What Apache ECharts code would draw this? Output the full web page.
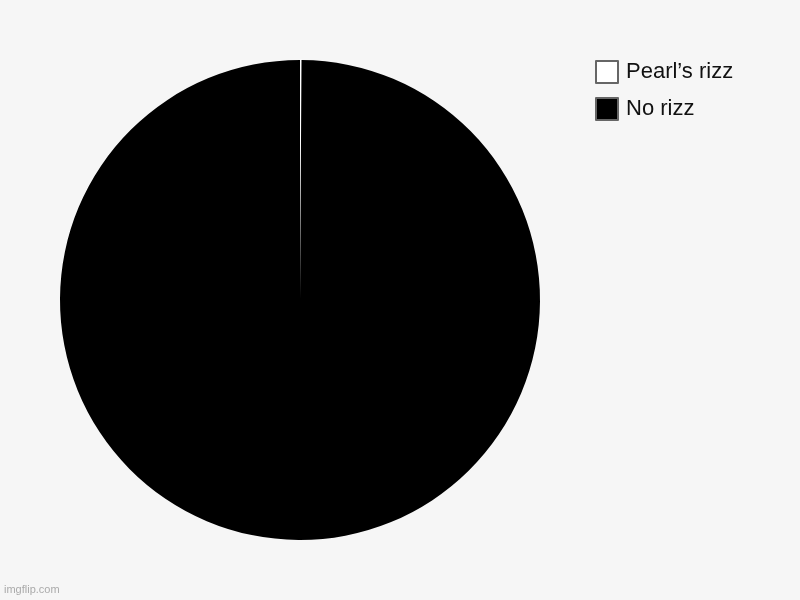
<!DOCTYPE html>
<html>
<head>
<meta charset="utf-8">
<script src="https://cdn.jsdelivr.net/npm/echarts@6/dist/echarts.min.js"></script>
<style>
html,body{margin:0;padding:0;background:#f6f6f6;}
#c{width:800px;height:600px;}
</style>
</head>
<body>
<div id="c"></div>
<script>
const categories = ["Pearl\u2019s rizz", "No rizz"];
const values = [1, 999];
const sliceColors = ["#ffffff", "#000000"];

const chart = echarts.init(document.getElementById('c'), null, {renderer: 'canvas'});
chart.setOption({
  backgroundColor: '#f6f6f6',
  animation: false,
  legend: {
    orient: 'vertical',
    left: 595,
    top: 60,
    padding: 0,
    itemWidth: 22,
    itemHeight: 22,
    itemGap: 13,
    icon: 'rect',
    selectedMode: false,
    textStyle: {fontFamily: 'Liberation Sans, Arial, sans-serif', fontSize: 22, color: '#111', padding: [0,0,0,3]},
    data: categories.map((c, i) => ({
      name: c,
      itemStyle: {color: sliceColors[i], borderColor: '#666', borderWidth: 2}
    }))
  },
  graphic: [{
    type: 'text', left: 4, top: 584,
    style: {text: 'imgflip.com', fill: '#aaa', font: '11px Liberation Sans, Arial, sans-serif'}
  }],
  series: [{
    type: 'pie',
    center: [300, 300],
    radius: [0, 240],
    startAngle: 90,
    clockwise: true,
    label: {show: false},
    labelLine: {show: false},
    emphasis: {disabled: true},
    silent: true,
    data: categories.map((c, i) => ({
      name: c,
      value: values[i],
      itemStyle: i === 0 ? {color: sliceColors[i], borderColor: '#ffffff', borderWidth: 1.2} : {color: sliceColors[i], borderWidth: 0}
    }))
  }]
});
</script>
</body>
</html>
